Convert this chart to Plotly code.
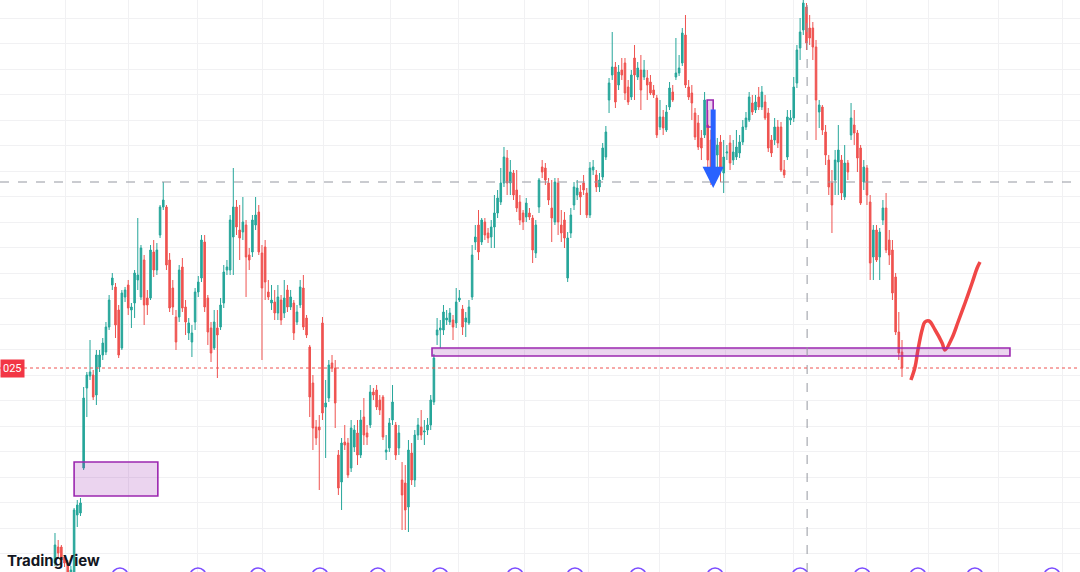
import plotly.graph_objects as go

# ---------------- data ----------------
opens = [37, 53, 53, 43, 37, 20, 25, 85, 87, 132, 212, 224, 225, 205, 233, 245, 248, 273, 315, 313,
         290, 252, 303, 315, 290, 297, 320, 303, 340, 302, 302, 348, 330, 365, 393, 393, 340, 312, 283, 283,
         333, 293, 267, 258, 278, 308, 322, 358, 302, 272, 252, 272, 273, 297, 330, 330, 363, 393, 370, 368,
         375, 345, 348, 375, 388, 347, 353, 308, 297, 298, 287, 300, 287, 310, 293, 297, 278, 295, 312, 282,
         253, 217, 173, 173, 277, 193, 202, 237, 232, 145, 118, 158, 157, 132, 153, 167, 145, 183, 167, 175,
         208, 210, 200, 203, 148, 152, 180, 175, 152, 120, 117, 93, 147, 120, 165, 173, 168, 170, 175, 198,
         265, 270, 270, 280, 278, 280, 277, 300, 291, 278, 277, 303, 358, 375, 358, 378, 367, 363, 373, 387,
         398, 417, 442, 417, 427, 410, 398, 387, 383, 387, 382, 347, 393, 433, 432, 417, 392, 378, 417, 375,
         380, 322, 367, 395, 405, 408, 417, 407, 385, 430, 425, 413, 423, 443, 500, 525, 533, 515, 530, 537,
         513, 503, 542, 523, 530, 523, 522, 518, 510, 502, 473, 483, 470, 493, 508, 523, 527, 537, 565, 513,
         507, 487, 477, 462, 465, 475, 460, 460, 445, 458, 427, 447, 457, 440, 443, 447, 458, 473, 480, 497,
         490, 503, 493, 498, 487, 460, 460, 473, 473, 430, 443, 480, 482, 517, 552, 570, 593, 572, 572, 553,
         488, 493, 468, 440, 417, 420, 438, 440, 403, 437, 465, 475, 467, 452, 418, 432, 398, 343, 370, 343,
         380, 392, 360, 350, 323, 268, 248]
closes = [55, 47, 40, 37, 22, 30, 90, 95, 97, 202, 225, 228, 203, 245, 245, 257, 273, 300, 322, 275,
          245, 307, 310, 292, 293, 327, 325, 352, 295, 295, 350, 330, 350, 393, 400, 335, 292, 293, 258, 330,
          292, 278, 277, 267, 308, 318, 360, 293, 268, 247, 278, 265, 295, 328, 333, 380, 393, 373, 362, 378,
          343, 340, 380, 385, 348, 312, 318, 303, 300, 287, 303, 280, 302, 293, 303, 267, 288, 313, 273, 265,
          203, 172, 162, 170, 187, 197, 235, 232, 197, 112, 157, 155, 125, 172, 170, 145, 180, 165, 163, 208,
          205, 193, 190, 163, 150, 177, 198, 145, 167, 105, 90, 150, 120, 165, 175, 165, 169, 175, 200, 242,
          270, 272, 288, 282, 287, 273, 298, 302, 273, 282, 293, 345, 363, 348, 380, 365, 362, 373, 387, 402,
          417, 443, 417, 428, 405, 392, 380, 378, 397, 383, 350, 375, 420, 428, 420, 400, 382, 418, 378, 367,
          362, 362, 385, 413, 412, 403, 410, 385, 432, 433, 413, 420, 452, 468, 517, 533, 498, 528, 525, 507,
          498, 525, 525, 532, 510, 530, 515, 507, 505, 465, 483, 472, 488, 512, 500, 527, 532, 567, 515, 503,
          497, 463, 453, 452, 500, 440, 425, 450, 455, 433, 443, 448, 437, 448, 453, 458, 473, 482, 503, 488,
          498, 493, 508, 482, 452, 447, 473, 457, 430, 425, 483, 482, 513, 550, 568, 597, 557, 562, 553, 500,
          495, 470, 445, 413, 395, 440, 450, 407, 437, 428, 482, 467, 442, 397, 433, 405, 337, 370, 340, 368,
          392, 350, 345, 307, 268, 247, 232]
highs = [67, 60, 55, 45, 40, 34, 92, 100, 102, 213, 228, 260, 230, 250, 250, 262, 278, 305, 327, 317,
         295, 310, 313, 320, 297, 330, 382, 355, 345, 310, 355, 360, 357, 395, 418, 395, 347, 320, 290, 335,
         342, 300, 282, 275, 312, 324, 365, 365, 305, 278, 290, 290, 302, 335, 340, 385, 432, 400, 395, 403,
         380, 352, 385, 403, 395, 355, 360, 320, 315, 310, 315, 305, 320, 315, 310, 300, 295, 320, 325, 285,
         255, 225, 180, 185, 283, 220, 240, 245, 240, 150, 162, 175, 162, 180, 175, 180, 190, 202, 175, 215,
         212, 215, 205, 205, 165, 182, 215, 178, 175, 138, 135, 160, 157, 170, 182, 190, 180, 182, 205, 246,
         282, 280, 295, 290, 292, 285, 312, 310, 295, 288, 300, 355, 375, 390, 382, 382, 372, 380, 405, 410,
         432, 453, 450, 440, 430, 430, 405, 390, 402, 392, 385, 380, 422, 440, 437, 422, 420, 422, 422, 390,
         388, 368, 392, 418, 420, 415, 425, 412, 438, 440, 430, 427, 457, 474, 522, 568, 538, 535, 542, 542,
         520, 530, 555, 538, 545, 540, 530, 525, 515, 505, 500, 490, 495, 518, 515, 562, 545, 572, 585, 520,
         515, 492, 485, 470, 508, 490, 470, 465, 462, 465, 460, 455, 465, 460, 470, 465, 480, 488, 508, 505,
         505, 513, 514, 505, 492, 465, 482, 480, 478, 440, 490, 490, 523, 555, 582, 600, 597, 585, 578, 560,
         500, 495, 475, 445, 430, 450, 475, 445, 455, 440, 497, 490, 470, 455, 440, 435, 405, 375, 375, 372,
         400, 407, 370, 360, 327, 288, 260]
lows = [34, 42, 37, 33, 18, 15, 22, 73, 84, 130, 183, 220, 200, 195, 228, 240, 245, 270, 310, 262,
        242, 250, 298, 285, 272, 282, 310, 300, 275, 285, 300, 323, 325, 362, 390, 330, 288, 285, 250, 278,
        288, 265, 260, 243, 270, 303, 318, 288, 255, 238, 250, 222, 270, 292, 325, 325, 325, 365, 340, 360,
        303, 330, 343, 370, 345, 240, 300, 300, 290, 280, 280, 275, 282, 288, 290, 260, 275, 292, 270, 262,
        183, 150, 155, 110, 180, 142, 198, 228, 172, 105, 90, 150, 122, 128, 148, 135, 142, 155, 155, 172,
        200, 190, 185, 160, 140, 148, 175, 140, 145, 70, 70, 68, 115, 113, 160, 160, 155, 165, 170, 195,
        255, 252, 265, 275, 275, 260, 272, 298, 265, 263, 275, 300, 350, 340, 355, 360, 357, 352, 352, 382,
        395, 413, 405, 405, 400, 388, 375, 370, 378, 380, 337, 342, 387, 422, 415, 395, 358, 375, 365, 358,
        352, 318, 362, 390, 400, 385, 405, 382, 382, 425, 408, 408, 420, 440, 487, 520, 492, 510, 520, 500,
        495, 500, 500, 520, 490, 520, 500, 505, 502, 462, 470, 465, 468, 490, 498, 520, 524, 534, 512, 500,
        480, 460, 450, 440, 462, 430, 415, 435, 430, 418, 407, 440, 430, 435, 440, 442, 455, 470, 478, 485,
        487, 490, 490, 480, 448, 443, 455, 452, 428, 422, 440, 475, 478, 512, 540, 565, 550, 555, 540, 460,
        472, 465, 435, 405, 367, 405, 405, 400, 400, 420, 460, 455, 428, 395, 410, 395, 320, 320, 338, 320,
        375, 347, 335, 300, 265, 240, 223]
bar_index = list(range(len(closes)))

# time grid lines (bar positions of session boundaries)
time_grid = [3.45, 23.24, 44.6, 65.3, 84.2, 105.5, 126.6, 147.6, 167.5, 189.7,
             210.7, 231.8, 255.0, 274.2, 296.2, 316.3]
# event markers along the time axis
event_bars = [20.4, 44.9, 63.8, 83.2, 101.4, 120.9, 144.5, 163.3, 183.1, 207.3,
              234.0, 253.5, 271.0, 288.9, 313.1]
event_level = 24

# hand-drawn projection
proj_x = [268.8, 270.1, 271.0, 272.3, 273.2, 274.5, 276.4, 278.6, 279.5, 281.7,
          283.6, 285.8, 288.0, 289.6, 290.5]
proj_y = [220, 233, 250, 270, 278, 279, 270, 257, 250, 262, 278, 297, 317, 332, 338]

# zones: (x0, x1, y0, y1)
zone_low = (6.0, 32.3, 104, 138)
zone_level = (118.4, 299.9, 244, 252)
zone_small = (204.8, 206.7, 473, 500)
arrow_x, arrow_from, arrow_to = 206.7, 492, 412
cross_x, cross_y = 236.2, 418
last_price = 232

x_range = [-17.27, 321.9]
y_range = [28, 600]

GREEN = "#26a69a"
RED = "#ef5350"
PURPLE = "#9c27b0"
GRID = "#f1f1f3"

fig = go.Figure()

fig.add_trace(go.Candlestick(
    x=bar_index, open=opens, high=highs, low=lows, close=closes,
    increasing=dict(line=dict(color=GREEN, width=1), fillcolor=GREEN),
    decreasing=dict(line=dict(color=RED, width=1), fillcolor=RED),
    whiskerwidth=0, hoverinfo="skip", showlegend=False,
))

fig.add_trace(go.Scatter(
    x=proj_x, y=proj_y, mode="lines",
    line=dict(color="#f04747", width=3.5, shape="spline", smoothing=1.0),
    hoverinfo="skip", showlegend=False,
))

fig.add_trace(go.Scatter(
    x=event_bars, y=[event_level] * len(event_bars), mode="markers",
    marker=dict(symbol="circle-open", size=16, color="#7c4dff", line=dict(width=1.6, color="#7c4dff")),
    hoverinfo="skip", showlegend=False,
))

for (x0, x1, y0, y1) in (zone_low, zone_level, zone_small):
    fig.add_shape(type="rect", x0=x0, x1=x1, y0=y0, y1=y1, xref="x", yref="y",
                  fillcolor="rgba(156,39,176,0.2)", line=dict(color=PURPLE, width=1.6), layer="above")

# crosshair
fig.add_shape(type="line", x0=cross_x, x1=cross_x, y0=0, y1=1, xref="x", yref="paper",
              line=dict(color="#9598a1", width=1, dash="dash"))
fig.add_shape(type="line", x0=0, x1=1, y0=cross_y, y1=cross_y, xref="paper", yref="y",
              line=dict(color="#9598a1", width=1, dash="dash"))
# last price line
fig.add_shape(type="line", x0=0, x1=1, y0=last_price, y1=last_price, xref="paper", yref="y",
              line=dict(color=RED, width=1, dash="dot"))

# blue arrow
fig.add_annotation(x=arrow_x, y=arrow_to, ax=arrow_x, ay=arrow_from, xref="x", yref="y",
                   axref="x", ayref="y", showarrow=True, arrowhead=2, arrowsize=0.85,
                   arrowwidth=5, arrowcolor="#2962ff", text="")

# price label
fig.add_annotation(x=0, y=last_price, xref="paper", yref="y", xanchor="left", yanchor="middle",
                   text="025", showarrow=False, bgcolor="#f23645", borderpad=2,
                   font=dict(color="white", size=11, family="Roboto"))

# TradingView watermark
fig.add_annotation(x=0.005, y=0, xref="paper", yref="paper", xanchor="left", yanchor="bottom",
                   yshift=0, text="<b>TradingView</b>", showarrow=False,
                   font=dict(color="#131722", size=15, family="Inter"))

fig.update_layout(
    width=1080, height=572, margin=dict(l=0, r=0, t=0, b=0),
    paper_bgcolor="white", plot_bgcolor="white",
    xaxis=dict(range=x_range, tickmode="array", tickvals=time_grid, showticklabels=False,
               showgrid=True, gridcolor=GRID, zeroline=False, rangeslider=dict(visible=False),
               fixedrange=True),
    yaxis=dict(range=y_range, tick0=582, dtick=25.5, showticklabels=False,
               showgrid=True, gridcolor=GRID, zeroline=False, fixedrange=True),
)

fig.write_html("out.html", config={"displayModeBar": False},
               post_script="document.body.style.margin='0';document.body.style.overflow='hidden';")
